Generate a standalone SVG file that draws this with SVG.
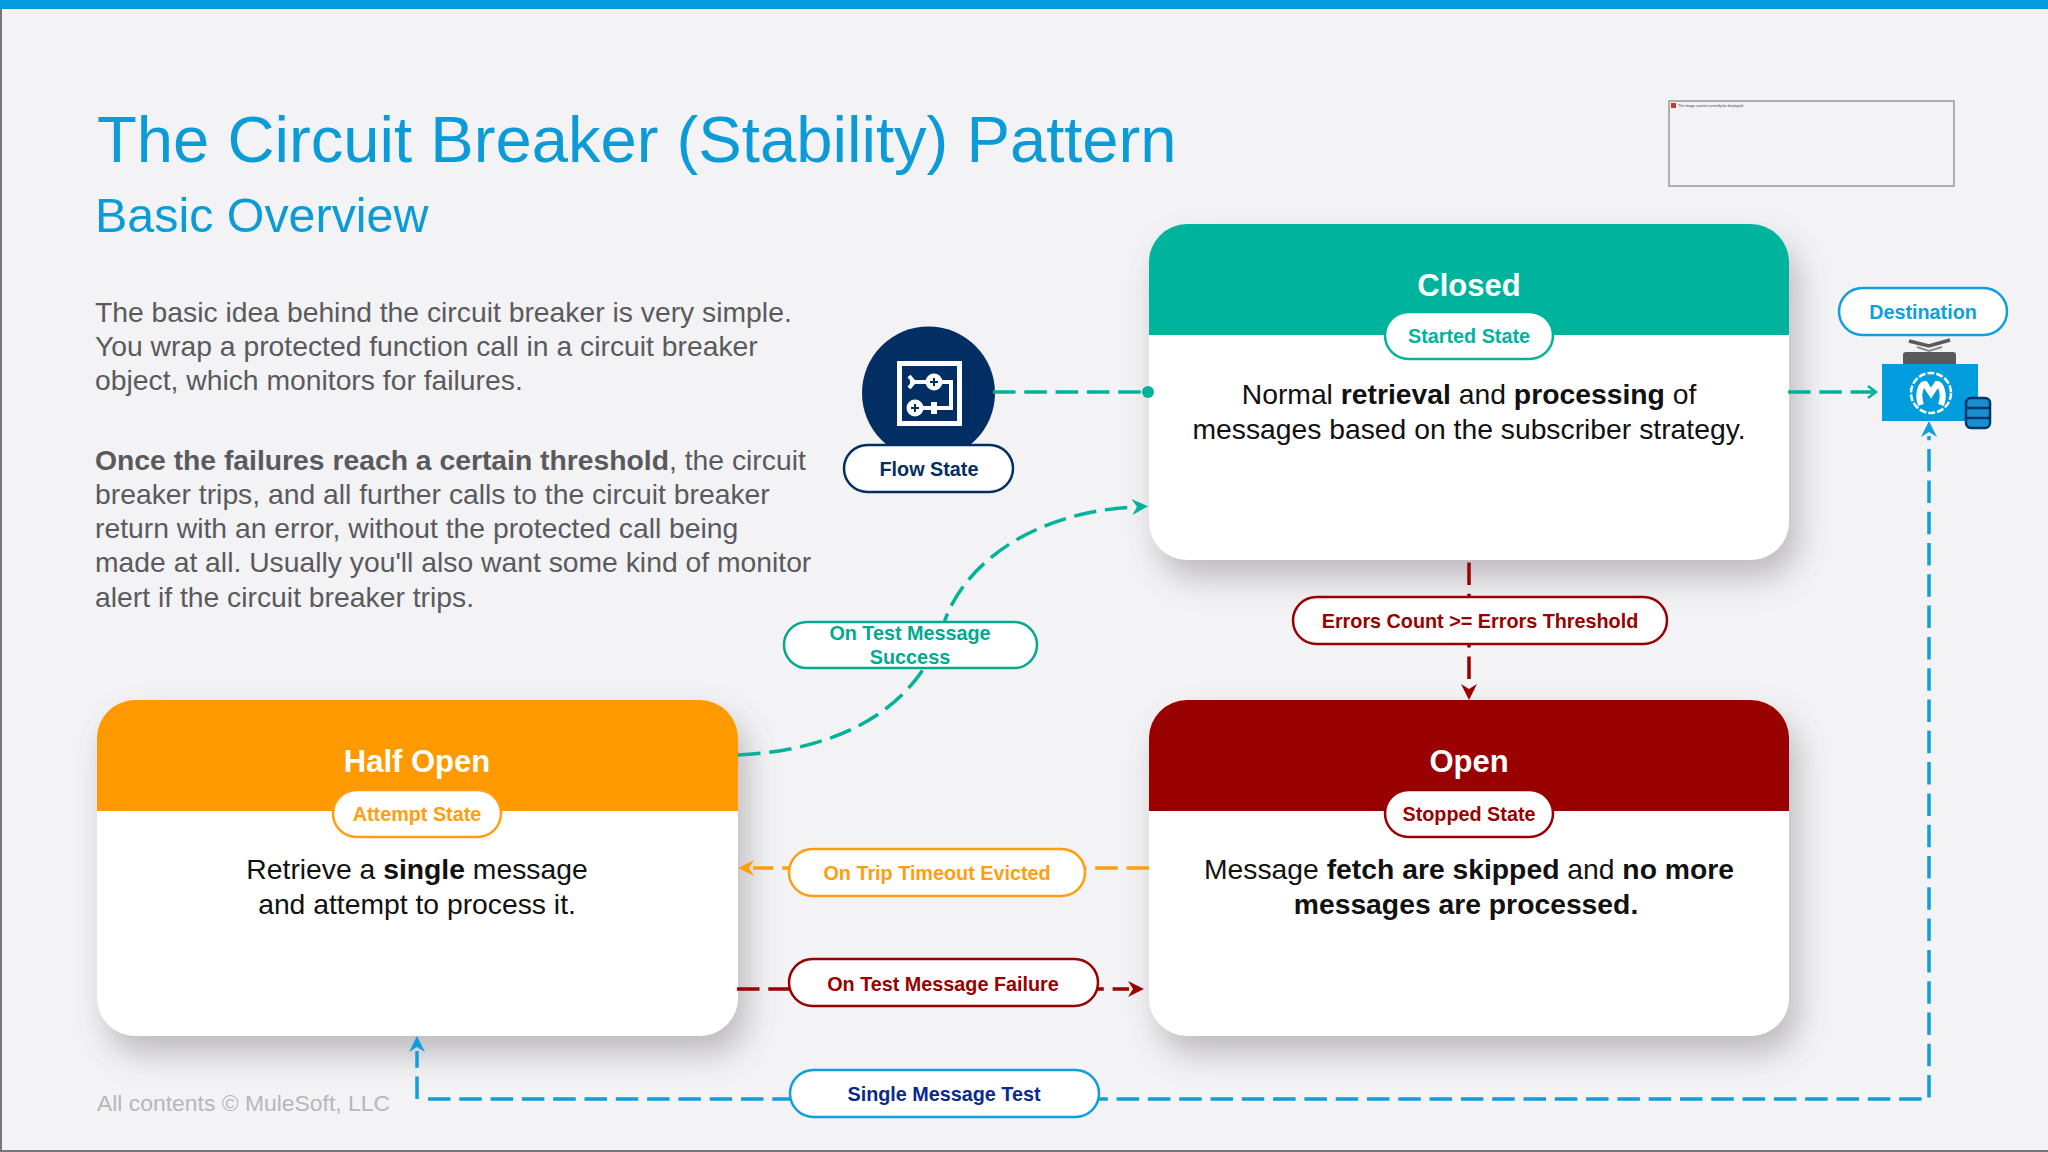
<svg xmlns="http://www.w3.org/2000/svg" width="2048" height="1152" viewBox="0 0 2048 1152">
<defs>
<style>
text{font-family:"Liberation Sans",Arial,sans-serif}
.b{font-weight:700}
.h{font-size:31px;font-weight:700;fill:#fff;text-anchor:middle}
.body{font-size:28.3px;fill:#111;text-anchor:middle}
.lead{font-size:28.3px;fill:#5a5a5e}
.pt{font-size:19.8px;font-weight:700;text-anchor:middle}
.pill{fill:#fff;stroke-width:2.5}
.c{fill:none;stroke-width:3.5;stroke-dasharray:22.5 8.8}
.green{stroke:#00b398}.red{stroke:#990000}.orange{stroke:#ff9e0f}.blue{stroke:#0f9fdd}
</style>
<filter id="sh" x="-15%" y="-15%" width="135%" height="140%"><feDropShadow dx="9" dy="18" stdDeviation="16" flood-color="#6a6870" flood-opacity="0.4"/></filter>
<marker id="ag" viewBox="0 0 16 16" refX="1" refY="8" markerWidth="16" markerHeight="16" markerUnits="userSpaceOnUse" orient="auto"><path d="M0 0L16 8L0 16L5 8Z" fill="#00b398"/></marker>
<marker id="ac" viewBox="0 0 12 16" refX="11" refY="8" markerWidth="12" markerHeight="16" markerUnits="userSpaceOnUse" orient="auto"><path d="M2 2L10 8L2 14" fill="none" stroke="#00b398" stroke-width="2.5"/></marker>
<marker id="ar" viewBox="0 0 16 16" refX="1" refY="8" markerWidth="16" markerHeight="16" markerUnits="userSpaceOnUse" orient="auto"><path d="M0 0L16 8L0 16L5 8Z" fill="#990000"/></marker>
<marker id="ao" viewBox="0 0 16 16" refX="1" refY="8" markerWidth="16" markerHeight="16" markerUnits="userSpaceOnUse" orient="auto"><path d="M0 0L16 8L0 16L5 8Z" fill="#ff9e0f"/></marker>
<marker id="ab" viewBox="0 0 16 16" refX="1" refY="8" markerWidth="16" markerHeight="16" markerUnits="userSpaceOnUse" orient="auto"><path d="M0 0L16 8L0 16L5 8Z" fill="#0f9fdd"/></marker>
</defs>
<rect width="2048" height="1152" fill="#f3f2f4"/>
<path d="M1 9V1151H2048" fill="none" stroke="#77777a" stroke-width="2"/>
<rect width="2048" height="9" fill="#009cde"/>

<g id="heading">
<text x="97" y="162" font-size="65.2" fill="#0a9bd8">The Circuit Breaker (Stability) Pattern</text>
<text x="95" y="232" font-size="48.4" fill="#0a9bd8">Basic Overview</text>
</g>
<g id="intro">
<text class="lead" x="95" y="322">The basic idea behind the circuit breaker is very simple.</text>
<text class="lead" x="95" y="356">You wrap a protected function call in a circuit breaker</text>
<text class="lead" x="95" y="390">object, which monitors for failures.</text>
<text class="lead" x="95" y="470"><tspan class="b">Once the failures reach a certain threshold</tspan>, the circuit</text>
<text class="lead" x="95" y="504">breaker trips, and all further calls to the circuit breaker</text>
<text class="lead" x="95" y="538">return with an error, without the protected call being</text>
<text class="lead" x="95" y="572">made at all. Usually you'll also want some kind of monitor</text>
<text class="lead" x="95" y="607">alert if the circuit breaker trips.</text>
</g>
<g id="placeholder">
<rect x="1669" y="101" width="285" height="85" fill="none" stroke="#99999c" stroke-width="1.5"/>
<rect x="1671" y="103" width="5" height="5" fill="#c8352c"/>
<text x="1678" y="107" font-size="3.6" fill="#444">The image cannot currently be displayed.</text>
</g>
<text id="footer" x="97" y="1111" font-size="22.9" fill="#b7b6ba">All contents © MuleSoft, LLC</text>

<g id="closed">
<rect x="1149" y="224" width="640" height="336" rx="38" fill="#fff" filter="url(#sh)"/>
<path d="M1149 335V262a38 38 0 0 1 38-38H1751a38 38 0 0 1 38 38V335Z" fill="#00b39d"/>
<text class="h" x="1469" y="296">Closed</text>
<text class="body" x="1469" y="404">Normal <tspan class="b">retrieval</tspan> and <tspan class="b">processing</tspan> of</text>
<text class="body" x="1469" y="439">messages based on the subscriber strategy.</text>
</g>
<g id="open">
<rect x="1149" y="700" width="640" height="336" rx="38" fill="#fff" filter="url(#sh)"/>
<path d="M1149 811V738a38 38 0 0 1 38-38H1751a38 38 0 0 1 38 38V811Z" fill="#990000"/>
<text class="h" x="1469" y="772">Open</text>
<text class="body" x="1469" y="879">Message <tspan class="b">fetch are skipped</tspan> and <tspan class="b">no more</tspan></text>
<text class="body b" x="1466" y="914">messages are processed.</text>
</g>
<g id="half-open">
<rect x="97" y="700" width="641" height="336" rx="38" fill="#fff" filter="url(#sh)"/>
<path d="M97 811V738a38 38 0 0 1 38-38H700a38 38 0 0 1 38 38V811Z" fill="#ff9900"/>
<text class="h" x="417" y="772">Half Open</text>
<text class="body" x="417" y="879">Retrieve a <tspan class="b">single</tspan> message</text>
<text class="body" x="417" y="914">and attempt to process it.</text>
</g>

<g id="flow-state">
<circle cx="928.500" cy="393" r="66.500" fill="#022e63"/>
<rect x="899.500" y="363.500" width="60" height="60" fill="none" stroke="#fff" stroke-width="5"/>
<g fill="none" stroke="#fff" stroke-width="4">
<path d="M910 382H934H951V408H915"/>
<path d="M909 376L914 382L909 388"/>
<path d="M934 402V414" stroke-width="6"/>
</g>
<circle cx="934" cy="382" r="8.500" fill="#fff"/>
<circle cx="915" cy="408" r="8.500" fill="#fff"/>
<path d="M930 382H938M934 378V386M911 408H919M915 404V412" stroke="#022e63" stroke-width="2" fill="none"/>
</g>
<g id="destination-icon">
<path d="M1909 341L1929 346L1950 340" fill="none" stroke="#59595c" stroke-width="3.500"/>
<path d="M1917 347L1929 351L1942 347" fill="none" stroke="#8b8b8e" stroke-width="2"/>
<path d="M1903 364V355Q1903 352 1906 352H1953Q1956 352 1956 355V364Z" fill="#59595c"/>
<rect x="1882" y="364" width="96" height="57" fill="#009cde"/>
<circle cx="1931" cy="393" r="20" fill="none" stroke="#fff" stroke-width="2.500" stroke-dasharray="7 2"/>
<path d="M1921 405C1917 394 1921 384 1925 384L1931 393L1937 384C1941 384 1945 394 1941 405" fill="none" stroke="#fff" stroke-width="6"/>
<g stroke="#00346f" stroke-width="2.500" fill="#1a8fd0">
<rect x="1966" y="398" width="24" height="30" rx="5"/>
<path d="M1966 408H1990M1966 418H1990" fill="none"/>
</g>
</g>

<g id="connectors">
<path class="c green" d="M993 392H1149"/>
<circle cx="1148" cy="392" r="6" fill="#00b398"/>
<path class="c green" d="M1788 392H1877" marker-end="url(#ac)"/>
<path class="c green" d="M738 755C850 750 925 700 945 620C965 565 1030 513 1133 507" marker-end="url(#ag)"/>
<path class="c red" style="stroke-dashoffset:-2.500" d="M1469 560V685" marker-end="url(#ar)"/>
<path class="c orange" d="M1149 868H753" marker-end="url(#ao)"/>
<path class="c red" d="M737 989H1129" marker-end="url(#ar)"/>
<path class="c blue" d="M417 1099V1051" marker-end="url(#ab)"/>
<path class="c blue" d="M428 1099H1929V436" marker-end="url(#ab)"/>
</g>

<g id="label-started"><rect class="pill" x="1385" y="312" width="168" height="47" rx="23.500" stroke="#00b39d"/><text class="pt" x="1469" y="343" fill="#00b39d">Started State</text></g>
<g id="label-stopped"><rect class="pill" x="1385" y="790" width="168" height="47" rx="23.500" stroke="#990000"/><text class="pt" x="1469" y="821" fill="#990000">Stopped State</text></g>
<g id="label-attempt"><rect class="pill" x="333" y="790" width="168" height="47" rx="23.500" stroke="#ff9e0f"/><text class="pt" x="417" y="821" fill="#ff9e0f">Attempt State</text></g>
<g id="label-flow"><rect class="pill" x="844" y="445" width="169" height="47" rx="23.500" stroke="#022e63"/><text class="pt" x="929" y="476" fill="#022e63">Flow State</text></g>
<g id="label-destination"><rect class="pill" x="1839" y="288" width="168" height="47" rx="23.500" stroke="#0f9fdd"/><text class="pt" x="1923" y="319" fill="#0f9fdd">Destination</text></g>
<g id="label-success"><rect class="pill" x="784" y="622" width="253" height="46" rx="23" stroke="#00a98f"/><text class="pt" x="910" y="640" fill="#00a98f">On Test Message</text><text class="pt" x="910" y="664" fill="#00a98f">Success</text></g>
<g id="label-errors"><rect class="pill" x="1293" y="597" width="374" height="47" rx="23.500" stroke="#990000"/><text class="pt" x="1480" y="628" fill="#990000">Errors Count &gt;= Errors Threshold</text></g>
<g id="label-timeout"><rect class="pill" x="789" y="849" width="296" height="47" rx="23.500" stroke="#ff9e0f"/><text class="pt" x="937" y="880" fill="#ff9e0f">On Trip Timeout Evicted</text></g>
<g id="label-failure"><rect class="pill" x="789" y="959" width="309" height="47" rx="23.500" stroke="#990000"/><text class="pt" x="943" y="991" fill="#990000">On Test Message Failure</text></g>
<g id="label-single"><rect class="pill" x="790" y="1070" width="309" height="47" rx="23.500" stroke="#0f9fdd"/><text class="pt" x="944" y="1101" fill="#0b2a8c">Single Message Test</text></g>
</svg>
